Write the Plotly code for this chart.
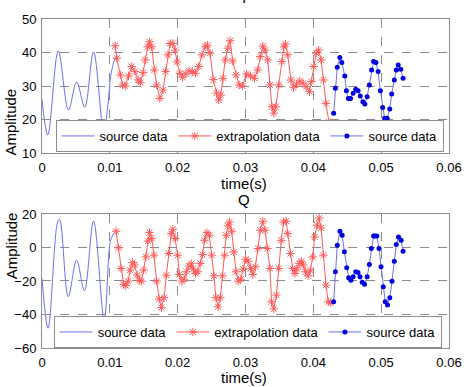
import plotly.graph_objects as go

# ---------------- I channel (top) ----------------
i_src_t = [0, 0.00086, 0.0024, 0.0039, 0.0051, 0.0063, 0.0076, 0.0091, 0.0097, 0.0102, 0.01084, 0.0112]
i_src_v = [26, 15.4, 40.5, 22.8, 31.2, 23.7, 40.2, 16.5, 24, 33.8, 38.3, 38.7]

i_ext_t = [0.01078, 0.01103, 0.01155, 0.01189, 0.01227, 0.01275, 0.01322, 0.0137, 0.01418, 0.01451,
           0.0149, 0.01523, 0.01557, 0.01585, 0.01618, 0.01657, 0.0169, 0.01737, 0.01786, 0.01823,
           0.01857, 0.0189, 0.01929, 0.01962, 0.0199, 0.02033, 0.02072, 0.0212, 0.02167, 0.02215,
           0.02263, 0.0231, 0.02358, 0.02406, 0.02439, 0.02477, 0.02525, 0.02573, 0.02606, 0.02635,
           0.02668, 0.02702, 0.0274, 0.02774, 0.0281, 0.0286, 0.02907, 0.02955, 0.03017, 0.03074,
           0.03132, 0.03179, 0.03218, 0.03255, 0.0329, 0.03327, 0.03361, 0.0339, 0.03418, 0.03447,
           0.0349, 0.03537, 0.03566, 0.0359, 0.03623, 0.0367, 0.03709, 0.03752, 0.038, 0.03848,
           0.03895, 0.03943, 0.03971, 0.04005, 0.04043, 0.04077, 0.04114, 0.04149, 0.04186, 0.04229]
i_ext_v = [42.0, 38.3, 33.3, 30.3, 30.0, 33.0, 35.8, 34.3, 31.8, 31.0,
           34.0, 37.8, 41.7, 43.2, 41.7, 34.8, 30.3, 26.3, 28.8, 34.3,
           39.3, 42.7, 42.7, 40.7, 37.2, 33.8, 32.6, 33.6, 34.5, 34.3,
           33.8, 35.8, 39.3, 41.7, 42.2, 39.8, 31.9, 27.9, 25.8, 27.3,
           32.3, 37.8, 41.3, 43.5, 37.5, 33.3, 30.3, 30.0, 33.6, 33.0,
           32.3, 34.8, 38.8, 41.9, 40.7, 37.8, 30.3, 23.8, 21.9, 23.8,
           30.3, 37.3, 41.7, 42.5, 39.3, 31.8, 29.6, 30.6, 31.5, 30.8,
           29.8, 28.3, 31.3, 35.8, 39.8, 40.7, 37.8, 31.8, 24.8, 19.3]

i_dot_t = [0.043, 0.04325, 0.04353, 0.04392, 0.0442, 0.04464, 0.04487, 0.04516, 0.04549, 0.04587,
           0.04625, 0.04659, 0.04692, 0.0473, 0.04759, 0.04793, 0.04826, 0.04859, 0.04888, 0.04922,
           0.04955, 0.04988, 0.05022, 0.05051, 0.05088, 0.05127, 0.05155, 0.05194, 0.05223, 0.05251,
           0.05289, 0.05323]
i_dot_v = [21.9, 29.3, 35.6, 38.5, 37.0, 33.0, 28.6, 26.3, 26.3, 27.8,
           29.0, 28.6, 27.0, 25.3, 24.6, 26.8, 30.3, 34.8, 37.3, 37.0,
           34.3, 28.6, 23.6, 20.4, 20.4, 23.1, 27.6, 31.8, 34.8, 36.3,
           35.0, 32.3]

# ---------------- Q channel (bottom) ----------------
q_src_t = [0, 0.0009, 0.00234, 0.0026, 0.00387, 0.0051, 0.00625, 0.0076, 0.00917, 0.00998, 0.0103, 0.0107]
q_src_v = [-18.5, -48.2, 15.8, 16.7, -29.4, -7.6, -25.8, 15.8, -43.3, 1.4, 6.3, 9.0]

q_ext_t = [0.01093, 0.01127, 0.01165, 0.01203, 0.01236, 0.0127, 0.01298, 0.01332, 0.01365, 0.01403,
           0.01437, 0.01465, 0.01499, 0.01532, 0.01561, 0.01585, 0.01618, 0.01651, 0.0169, 0.01728,
           0.01761, 0.018, 0.01833, 0.01866, 0.01905, 0.01929, 0.01962, 0.02, 0.02024, 0.02062,
           0.02095, 0.02129, 0.02167, 0.02201, 0.0223, 0.02263, 0.02296, 0.02334, 0.02367, 0.02396,
           0.0243, 0.02467, 0.02502, 0.02535, 0.02563, 0.02596, 0.0263, 0.02659, 0.02692, 0.02716,
           0.0274, 0.02764, 0.02797, 0.02826, 0.0286, 0.02893, 0.02931, 0.02964, 0.03003, 0.03036,
           0.03075, 0.03108, 0.03146, 0.03184, 0.03218, 0.03255, 0.0329, 0.03322, 0.03361, 0.03384,
           0.03418, 0.03456, 0.0349, 0.03527, 0.03561, 0.03599, 0.03623, 0.03662, 0.03695, 0.03728,
           0.03757, 0.0379, 0.03824, 0.03852, 0.03885, 0.03924, 0.03957, 0.03991, 0.0402, 0.04053,
           0.04086, 0.04114, 0.04149, 0.04186, 0.0422, 0.04257]
q_ext_v = [9.7, -0.2, -12.5, -22.0, -22.8, -20.1, -13.5, -8.9, -10.5, -16.5,
           -19.5, -20.1, -13.5, -5.6, 3.8, 8.9, 5.4, -4.6, -20.1, -30.8,
           -35.9, -30.0, -16.5, -3.6, 8.3, 10.9, 5.4, -4.6, -16.1, -20.1,
           -18.9, -14.5, -11.0, -9.7, -12.9, -15.5, -14.5, -9.5, -4.2, 4.3,
           8.9, 7.3, -4.6, -16.9, -30.0, -35.4, -30.0, -16.9, -4.6, 7.3,
           12.9, 15.2, 9.7, -2.6, -14.5, -20.1, -18.9, -12.9, -7.0, -8.2,
           -12.5, -16.1, -11.5, -0.6, 10.3, 15.7, 10.3, -0.6, -12.5, -32.4,
           -36.7, -28.4, -12.5, 4.3, 15.2, 15.7, 8.3, -3.6, -12.5, -15.5,
           -12.9, -9.5, -8.2, -10.5, -14.5, -16.9, -13.5, -5.6, 6.3, 13.3,
           17.6, 11.7, -4.6, -22.4, -32.4, -33.0]

q_dot_t = [0.043, 0.04325, 0.04353, 0.04392, 0.04425, 0.04458, 0.04492, 0.04521, 0.04554, 0.04587,
           0.04625, 0.04659, 0.04688, 0.04721, 0.04755, 0.04793, 0.04826, 0.04855, 0.04888, 0.04912,
           0.04936, 0.04969, 0.04998, 0.05031, 0.0506, 0.05094, 0.05127, 0.0516, 0.05194, 0.05223,
           0.05256, 0.05294, 0.05323]
q_dot_v = [-32.4, -14.5, 1.4, 9.7, 7.3, -2.6, -12.1, -18.1, -19.5, -17.5,
           -14.5, -14.9, -17.5, -20.8, -22.0, -17.5, -10.1, -0.6, 6.9, 6.9,
           6.9, -0.6, -11.5, -23.5, -32.4, -34.3, -30.0, -20.1, -8.2, 1.8,
           6.3, 4.3, -2.2]

legend_names = ["source data", "extrapolation data", "source data"]
x_ticks = [0, 0.01, 0.02, 0.03, 0.04, 0.05, 0.06]
x_tick_text = ["0", "0.01", "0.02", "0.03", "0.04", "0.05", "0.06"]
i_yticks = [10, 20, 30, 40, 50]
q_yticks = [-60, -40, -20, 0, 20]

SRC_LINE = "rgb(110,110,235)"
EXT_LINE = "rgb(255,90,90)"
EXT_MARK = "rgb(255,60,60)"
DOT_COL = "rgb(0,0,225)"
FONT = "Liberation Sans, Arial, sans-serif"

fig = go.Figure()

def add_set(src_t, src_v, ext_t, ext_v, dot_t, dot_v, xa, ya, leg):
    fig.add_trace(go.Scatter(x=src_t, y=src_v, mode="lines", name=legend_names[0],
                             line=dict(color=SRC_LINE, width=1, shape="spline"),
                             xaxis=xa, yaxis=ya, legend=leg))
    fig.add_trace(go.Scatter(x=ext_t, y=ext_v, mode="lines+markers", name=legend_names[1],
                             line=dict(color=EXT_LINE, width=1),
                             marker=dict(symbol="asterisk-open", size=7,
                                         line=dict(color=EXT_MARK, width=1)),
                             xaxis=xa, yaxis=ya, legend=leg))
    fig.add_trace(go.Scatter(x=dot_t, y=dot_v, mode="lines+markers", name=legend_names[2],
                             line=dict(color=SRC_LINE, width=1),
                             marker=dict(symbol="circle", size=5, color=DOT_COL),
                             xaxis=xa, yaxis=ya, legend=leg))

add_set(i_src_t, i_src_v, i_ext_t, i_ext_v, i_dot_t, i_dot_v, "x", "y", "legend")
add_set(q_src_t, q_src_v, q_ext_t, q_ext_v, q_dot_t, q_dot_v, "x2", "y2", "legend2")

axis_common = dict(showline=True, mirror=True, linecolor="#8c8c8c", linewidth=1,
                   ticks="inside", ticklen=4, tickcolor="#8c8c8c",
                   showgrid=True, gridcolor="#8a8a8a", griddash="dash", gridwidth=1,
                   zeroline=False, tickfont=dict(family=FONT, size=13, color="black"))

fig.update_layout(
    width=474, height=387,
    margin=dict(l=42, r=13, t=19, b=39),
    paper_bgcolor="white", plot_bgcolor="white",
    font=dict(family=FONT, size=13, color="black"),
    xaxis=dict(domain=[0, 1], range=[0, 0.06], tickvals=x_ticks, ticktext=x_tick_text,
               anchor="y", ticklabelstandoff=2, **axis_common),
    yaxis=dict(domain=[0.5927, 1], range=[10, 50], tickvals=i_yticks,
               anchor="x", ticklabelstandoff=2, **axis_common),
    xaxis2=dict(domain=[0, 1], range=[0, 0.06], tickvals=x_ticks, ticktext=x_tick_text,
                anchor="y2", ticklabelstandoff=2, **axis_common),
    yaxis2=dict(domain=[0, 0.4073], range=[-60, 20], tickvals=q_yticks,
                anchor="x2", ticklabelstandoff=2, **axis_common),
    legend=dict(orientation="h", x=0.0334, y=0.5958, xanchor="left", yanchor="bottom",
                bgcolor="white", bordercolor="#8c8c8c", borderwidth=1,
                font=dict(family=FONT, size=13, color="black"), itemwidth=33),
    legend2=dict(orientation="h", x=0.0286, y=0.0, xanchor="left", yanchor="bottom",
                 bgcolor="white", bordercolor="#8c8c8c", borderwidth=1,
                 font=dict(family=FONT, size=13, color="black"), itemwidth=33),
    showlegend=True,
)

ann = dict(xref="paper", yref="paper", showarrow=False, font=dict(family=FONT, size=15, color="black"))
fig.add_annotation(text="I", x=0.497, y=1.034, yanchor="bottom", **ann)
fig.add_annotation(text="Q", x=0.497, y=0.419, yanchor="bottom", **ann)
fig.add_annotation(text="time(s)", x=0.497, y=0.5015, yanchor="middle", **ann)
fig.add_annotation(text="time(s)", x=0.497, y=-0.090, yanchor="middle", **ann)
fig.add_annotation(text="Amplitude", x=-0.0764, y=0.796, textangle=-90, xanchor="center", **ann)
fig.add_annotation(text="Amplitude", x=-0.0764, y=0.204, textangle=-90, xanchor="center", **ann)

fig.write_html("out.html", config={"displayModeBar": False},
               post_script="document.body.style.margin='0px';document.body.style.overflow='hidden';")
